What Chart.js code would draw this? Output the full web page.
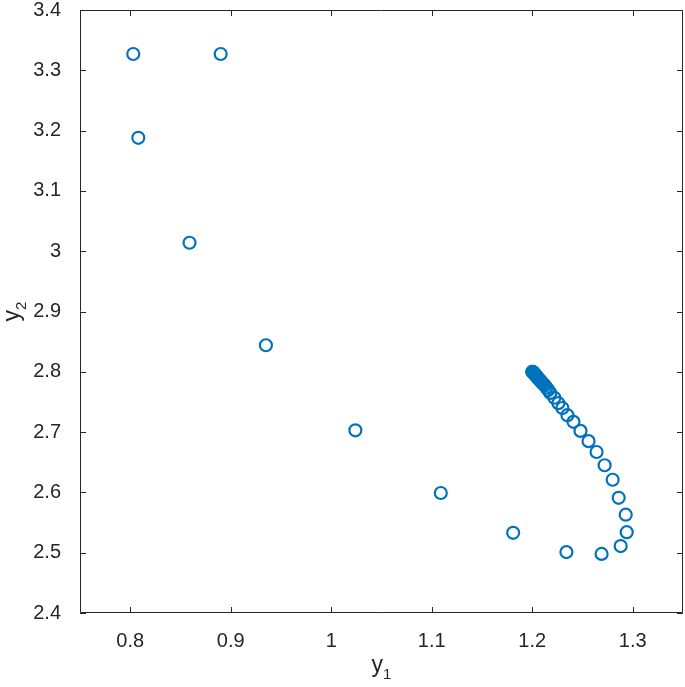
<!DOCTYPE html>
<html>
<head>
<meta charset="utf-8">
<script src="https://cdn.jsdelivr.net/npm/chart.js@4.4.1/dist/chart.umd.min.js"></script>
<style>
  html, body { margin: 0; padding: 0; background: #ffffff; }
  #wrap { width: 685px; height: 687px; }
</style>
</head>
<body>
<div id="wrap"><canvas id="grafico" width="685" height="687"></canvas></div>
<script>
// valores (y1, y2)
const valoresY1 = [0.803, 0.890, 0.808, 0.859, 0.935, 1.024, 1.109, 1.181, 1.234, 1.269,
    1.288, 1.294, 1.293, 1.286, 1.280, 1.272, 1.264, 1.256, 1.248, 1.241,
    1.235, 1.230, 1.226, 1.222, 1.218, 1.2160, 1.2140, 1.2125, 1.2110, 1.2095,
    1.2085, 1.2076, 1.2066, 1.2056, 1.2048, 1.2041, 1.2034, 1.2028, 1.2023, 1.2019,
    1.2015, 1.2011, 1.2008, 1.2006, 1.2003, 1.2];
const valoresY2 = [3.327, 3.327, 3.188, 3.014, 2.844, 2.703, 2.599, 2.533, 2.501, 2.498,
    2.511, 2.534, 2.563, 2.591, 2.621, 2.645, 2.667, 2.685, 2.702, 2.717,
    2.728, 2.740, 2.748, 2.757, 2.765, 2.7698, 2.7740, 2.7773, 2.7798, 2.7822,
    2.7847, 2.7864, 2.7881, 2.7897, 2.7914, 2.7930, 2.7942, 2.7954, 2.7964, 2.7972,
    2.7980, 2.7987, 2.7992, 2.7995, 2.7998, 2.8];

const ticksX = [0.8, 0.9, 1.0, 1.1, 1.2, 1.3];
const ticksY = [2.4, 2.5, 2.6, 2.7, 2.8, 2.9, 3.0, 3.1, 3.2, 3.3, 3.4];

const colorTexto = '#262626';
const fuente = '"Liberation Sans", Arial, Helvetica, sans-serif';

// Marco con marcas hacia dentro (estilo MATLAB) y títulos con subíndice
const marcoPlugin = {
    id: 'marco',
    afterDraw(chart) {
        const ctx = chart.ctx;
        const a = chart.chartArea;
        const sx = chart.scales.x;
        const sy = chart.scales.y;
        const largo = 6;
        ctx.save();
        ctx.strokeStyle = colorTexto;
        ctx.lineWidth = 1;
        ctx.beginPath();
        ctx.rect(a.left + 0.5, a.top + 0.5, a.right - a.left - 1, a.bottom - a.top - 1);
        ticksX.forEach(v => {
            const px = Math.round(sx.getPixelForValue(v)) + 0.5;
            ctx.moveTo(px, a.bottom);
            ctx.lineTo(px, a.bottom - largo);
            ctx.moveTo(px, a.top);
            ctx.lineTo(px, a.top + largo);
        });
        ticksY.forEach(v => {
            const py = Math.round(sy.getPixelForValue(v)) + 0.5;
            ctx.moveTo(a.left, py);
            ctx.lineTo(a.left + largo, py);
            ctx.moveTo(a.right, py);
            ctx.lineTo(a.right - largo, py);
        });
        ctx.stroke();

        // título eje x: y con subíndice 1
        ctx.fillStyle = colorTexto;
        ctx.textBaseline = 'alphabetic';
        ctx.textAlign = 'left';
        const cx = (a.left + a.right) / 2;
        ctx.font = '23px ' + fuente;
        const wy = ctx.measureText('y').width;
        ctx.font = '15px ' + fuente;
        const w1 = ctx.measureText('1').width;
        const x0 = cx - (wy + w1) / 2;
        ctx.font = '23px ' + fuente;
        ctx.fillText('y', x0, 672);
        ctx.font = '15px ' + fuente;
        ctx.fillText('1', x0 + wy, 679);

        // título eje y: y con subíndice 2, rotado
        ctx.translate(19, (a.top + a.bottom) / 2);
        ctx.rotate(-Math.PI / 2);
        ctx.font = '23px ' + fuente;
        const wy2 = ctx.measureText('y').width;
        ctx.font = '15px ' + fuente;
        const w2 = ctx.measureText('2').width;
        const y0 = -(wy2 + w2) / 2;
        ctx.font = '23px ' + fuente;
        ctx.fillText('y', y0, 0);
        ctx.font = '15px ' + fuente;
        ctx.fillText('2', y0 + wy2, 7);
        ctx.restore();
    }
};

const puntos = valoresY1.map((v, i) => ({ x: v, y: valoresY2[i] }));

new Chart(document.getElementById('grafico').getContext('2d'), {
    type: 'scatter',
    data: {
        datasets: [{
            data: puntos,
            pointStyle: 'circle',
            pointRadius: 6,
            pointHoverRadius: 6,
            borderColor: '#0072BD',
            backgroundColor: 'rgba(0,0,0,0)',
            pointBorderWidth: 2.2
        }]
    },
    options: {
        responsive: false,
        animation: false,
        layout: { autoPadding: false, padding: { top: 10, right: 2, left: 0, bottom: 0 } },
        plugins: {
            legend: { display: false },
            tooltip: { enabled: false }
        },
        scales: {
            x: {
                type: 'linear',
                min: 0.75,
                max: 1.35,
                grid: { display: false },
                border: { display: false },
                afterBuildTicks: scale => { scale.ticks = ticksX.map(v => ({ value: v })); },
                afterFit: scale => {
                    scale.height = 74;
                    scale.paddingLeft = 0;
                    scale.paddingRight = 0;
                },
                ticks: {
                    padding: 8,
                    color: colorTexto,
                    font: { family: fuente, size: 20 },
                    maxRotation: 0,
                    callback: v => String(Math.round(v * 10) / 10)
                }
            },
            y: {
                type: 'linear',
                min: 2.4,
                max: 3.4,
                grid: { display: false },
                border: { display: false },
                afterBuildTicks: scale => { scale.ticks = ticksY.map(v => ({ value: v })); },
                afterFit: scale => {
                    scale.width = 80;
                    scale.paddingTop = 0;
                    scale.paddingBottom = 0;
                },
                ticks: {
                    padding: 11,
                    color: colorTexto,
                    font: { family: fuente, size: 20 },
                    callback: v => String(Math.round(v * 10) / 10)
                }
            }
        }
    },
    plugins: [marcoPlugin]
});
</script>
</body>
</html>
